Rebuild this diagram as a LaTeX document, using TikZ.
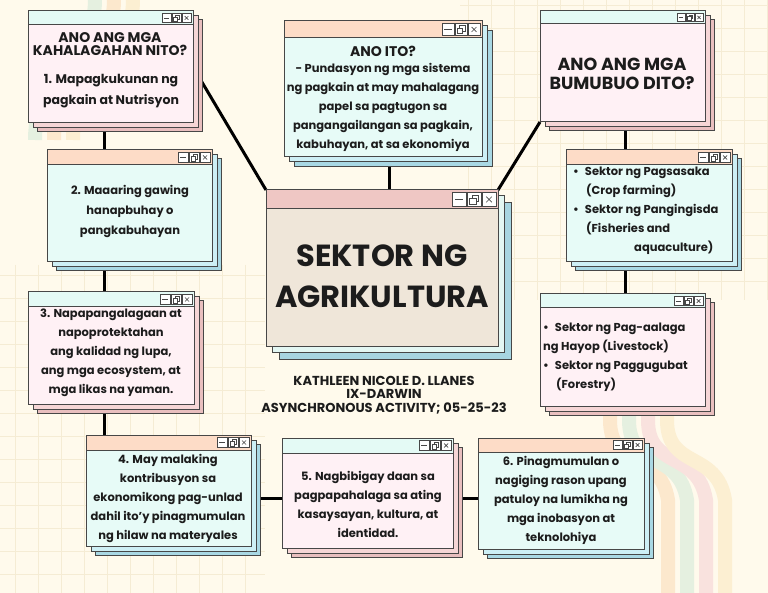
\documentclass[tikz,border=0pt]{standalone}
\usepackage{fontspec}
\setmainfont{Poppins}
\usetikzlibrary{positioning}

\definecolor{paper}{HTML}{FFFAEC}
\definecolor{gridc}{HTML}{F5ECD4}
\definecolor{edgegray}{HTML}{474747}
\definecolor{ink}{HTML}{1C1C1C}
% pink windows
\definecolor{pkbar}{HTML}{E4FAF5}
\definecolor{pkbody}{HTML}{FFF1F5}
\definecolor{pkshA}{HTML}{F6D6D6}
\definecolor{pkshB}{HTML}{E9BFBF}
% cyan windows
\definecolor{cybar}{HTML}{FDDCC7}
\definecolor{cybody}{HTML}{E7FBF7}
\definecolor{cyshA}{HTML}{CDEFF5}
\definecolor{cyshB}{HTML}{A9D8E4}
% centre window
\definecolor{ctbar}{HTML}{EFC7C4}
\definecolor{ctbody}{HTML}{EFE6D9}
\definecolor{ctshA}{HTML}{E3F7F3}
\definecolor{ctshB}{HTML}{A7D5E1}
% stripes
\definecolor{strO}{HTML}{FCE8CD}
\definecolor{strG}{HTML}{E5F0E0}
\definecolor{strP}{HTML}{F9E2DE}
\definecolor{strY}{HTML}{FCEFD2}

\pgfdeclarelayer{back}
\pgfdeclarelayer{wires}
\pgfsetlayers{back,wires,main}

\tikzset{
  edge/.style={draw=edgegray, line width=1pt},
  btn/.style={draw=edgegray, line width=0.7pt, fill=white},
  btnicon/.style={draw=edgegray, line width=0.7pt},
  wire/.style={draw=black, line width=3pt},
  gridline/.style={draw=gridc, line width=0.8pt},
  stripe/.style={line width=14pt},
  wintext/.style={align=center, text=ink, inner sep=0pt,
    font=\bfseries\fontsize{11.5}{19}\selectfont},
  hdrtext/.style={align=center, text=ink, inner sep=0pt,
    font=\bfseries\fontsize{14}{13.5}\selectfont},
}

\def\shA{5}
\def\shB{9}
% window: name, x1, y1, x2, y2, scheme, bar height
\newcommand{\winbox}[7]{%
  \draw[edge, fill=#6shB] (#2+\shB,#3+\shB) rectangle (#4+\shB,#5+\shB);
  \draw[edge, fill=#6shA] (#2+\shA,#3+\shA) rectangle (#4+\shA,#5+\shA);
  \pgfmathsetmacro\wbw{#4-#2}
  \pgfmathsetmacro\wbh{#5-#3}
  \node[edge, fill=#6body, anchor=north west, inner sep=0pt, outer sep=0pt,
    minimum width=\wbw pt, minimum height=\wbh pt] (#1) at (#2,#3) {};
  \draw[edge, fill=#6bar] (#2,#3) rectangle (#4,#3+#7);
  \pgfmathsetmacro\wbs{#7-5}
  \pgfmathsetmacro\wby{#3+2.5}
  \pgfmathsetmacro\wxc{#4-2-\wbs}
  \pgfmathsetmacro\wxr{\wxc-1-\wbs}
  \pgfmathsetmacro\wxm{\wxr-1-\wbs}
  \foreach \bx in {\wxm,\wxr,\wxc}
    \draw[btn] (\bx,\wby) rectangle ++(\wbs,\wbs);
  \draw[btnicon] (\wxm+0.2*\wbs,\wby+0.5*\wbs) -- ++(0.6*\wbs,0);
  \draw[btnicon] (\wxc+0.3*\wbs,\wby+0.3*\wbs) -- ++(0.4*\wbs,0.4*\wbs)
                 (\wxc+0.7*\wbs,\wby+0.3*\wbs) -- ++(-0.4*\wbs,0.4*\wbs);
  \draw[btnicon, line width=0.5pt] (\wxr+0.38*\wbs,\wby+0.18*\wbs) rectangle ++(0.45*\wbs,0.45*\wbs);
  \draw[btnicon, line width=0.5pt, fill=white] (\wxr+0.18*\wbs,\wby+0.38*\wbs) rectangle ++(0.45*\wbs,0.45*\wbs);
}

\begin{document}
\begin{tikzpicture}[x=1pt, y=-1pt]
\useasboundingbox (0,0) rectangle (768,593);

\begin{pgfonlayer}{back}
\fill[paper] (0,0) rectangle (768,593);
% grid top right
\foreach \gx in {468,491,...,768} \draw[gridline] (\gx,0) -- (\gx,300);
\foreach \gy in {5,28,...,300} \draw[gridline] (460,\gy) -- (768,\gy);
% grid bottom left
\foreach \gx in {15,38,...,265} \draw[gridline] (\gx,265) -- (\gx,593);
\foreach \gy in {275,298,...,593} \draw[gridline] (0,\gy) -- (265,\gy);
% stripes bottom right
\foreach \i/\c in {0/strO,1/strG,2/strP,3/strY}
  \draw[stripe, \c] (610+19*\i,390) -- (610+19*\i,420)
    .. controls (610+19*\i,470) and (660+19*\i,450) .. (668+19*\i,500) -- (668+19*\i,593);
% stripes top left
\foreach \i/\c in {0/strG,1/strO,2/strY}
  \draw[stripe, \c] (95+19*\i,0) .. controls (95+19*\i,60) and (35+19*\i,70) .. (35+19*\i,140);
\end{pgfonlayer}

% windows
\winbox{kahal}{28}{11}{193}{123}{pk}{14}
\node[hdrtext] (kahal-hd) at (110,44) {ANO ANG MGA\\KAHALAGAHAN NITO?};
\node[wintext, font=\bfseries\fontsize{12.5}{21}\selectfont] (kahal-tx) at (111,91) {1. Mapagkukunan ng\\pagkain at Nutrisyon};

\def\shB{10}
\winbox{anoito}{284}{21}{482}{157}{cy}{17}
\node[hdrtext] (anoito-hd) at (383,51) {ANO ITO?};
\node[wintext] (anoito-tx) at (383,107) {- Pundasyon ng mga sistema\\ng pagkain at may mahalagang\\papel sa pagtugon sa\\pangangailangan sa pagkain,\\kabuhayan, at sa ekonomiya};
\def\shB{9}

\winbox{bumubuo}{540}{11}{705}{122}{pk}{13}
\node[hdrtext, font=\bfseries\fontsize{17.5}{19.5}\selectfont] (bumubuo-hd) at (622,74) {ANO ANG MGA\\BUMUBUO DITO?};

\def\shA{6}\def\shB{13}
\winbox{sektor}{266}{190}{498}{347}{ct}{19}
\node[wintext, font=\bfseries\fontsize{30.5}{41}\selectfont] (sektor-tx) at (382,276) {SEKTOR NG\\AGRIKULTURA};
\def\shA{5}\def\shB{9}

\node[wintext, font=\bfseries\fontsize{13}{13.5}\selectfont] (author) at (384,395)
  {KATHLEEN NICOLE D. LLANES\\IX-DARWIN\\ASYNCHRONOUS ACTIVITY; 05-25-23};

\winbox{maari}{47}{150}{212}{262}{cy}{15}
\node[wintext, font=\bfseries\fontsize{11.5}{20}\selectfont] (maari-tx) at (130,211) {2. Maaaring gawing\\hanapbuhay o\\pangkabuhayan};

\winbox{napapa}{28}{292}{194}{404}{pk}{15}
\node[wintext] (napapa-tx) at (111,353) {3. Napapangalagaan at\\napoprotektahan\\ang kalidad ng lupa,\\ang mga ecosystem, at\\mga likas na yaman.};

\winbox{pagsasaka}{566}{150}{732}{262}{cy}{15}
\node[wintext, align=left, anchor=west] (pagsasaka-tx) at (573,211)
  {\textbullet\hspace{6pt}Sektor ng Pagsasaka\\\hspace*{13pt}(Crop farming)\\\textbullet\hspace{6pt}Sektor ng Pangingisda\\\hspace*{13pt}(Fisheries and\\\hspace*{61pt}aquaculture)};

\winbox{pagaalaga}{540}{294}{705}{406}{pk}{14}
\node[wintext, align=left, anchor=west] (pagaalaga-tx) at (543,357)
  {\textbullet\hspace{6pt}Sektor ng Pag-aalaga\\ng Hayop (Livestock)\\\textbullet\hspace{6pt}Sektor ng Paggugubat\\\hspace*{13pt}(Forestry)};

\winbox{malaking}{86}{435}{251}{546}{cy}{15}
\node[wintext] (malaking-tx) at (168,498) {4. May malaking\\kontribusyon sa\\ekonomikong pag-unlad\\dahil ito'y pinagmumulan\\ng hilaw na materyales};

\winbox{nagbibigay}{282}{438}{453}{548}{pk}{15}
\node[wintext] (nagbibigay-tx) at (368,504) {5. Nagbibigay daan sa\\pagpapahalaga sa ating\\kasaysayan, kultura, at\\identidad.};

\winbox{pinagmumulan}{478}{438}{644}{549}{cy}{14}
\node[wintext] (pinagmumulan-tx) at (561,500) {6. Pinagmumulan o\\nagiging rason upang\\patuloy na lumikha ng\\mga inobasyon at\\teknolohiya};

% connectors
\coordinate (lspine) at (104,0);
\coordinate (rspine) at (625,0);
\coordinate (cspine) at (389,0);
\coordinate (bspine) at (0,498);
\begin{pgfonlayer}{wires}
\draw[wire] (lspine |- kahal.south) -- (lspine |- maari.north);
\draw[wire] (lspine |- maari.south) -- (lspine |- napapa.north);
\draw[wire] (lspine |- napapa.south) -- (lspine |- malaking.north);
\draw[wire] (rspine |- bumubuo.south) -- (rspine |- pagsasaka.north);
\draw[wire] (rspine |- pagsasaka.south) -- (rspine |- pagaalaga.north);
\draw[wire] (cspine |- anoito.south) -- (cspine |- sektor.north);
\draw[wire] (kahal.east) -- (sektor.north west);
\draw[wire] (bumubuo.south west) -- (sektor.north east);
\draw[wire] (bspine -| malaking.east) -- (bspine -| nagbibigay.west);
\draw[wire] (bspine -| nagbibigay.east) -- (bspine -| pinagmumulan.west);
\end{pgfonlayer}

\end{tikzpicture}
\end{document}
